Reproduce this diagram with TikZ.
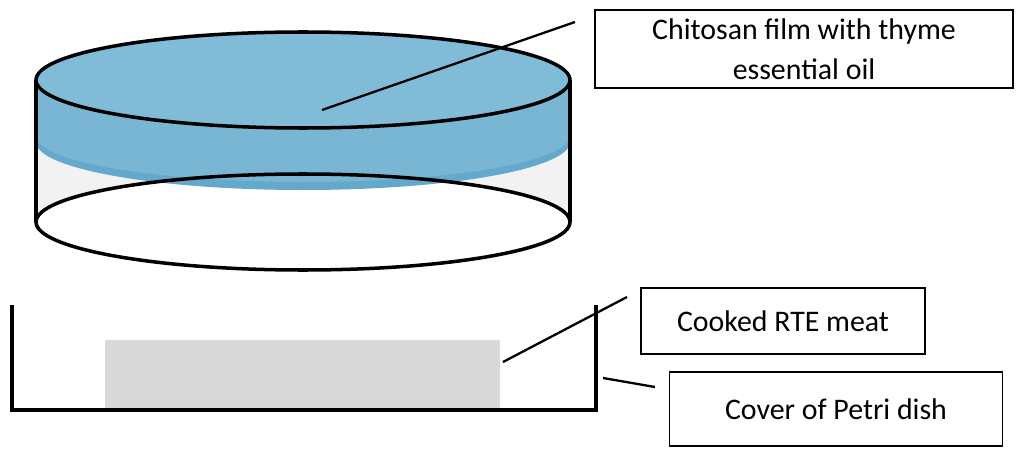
\documentclass[tikz,border=0pt]{standalone}
\usepackage{fontspec}
\setmainfont{Carlito}
\definecolor{filmA}{RGB}{128,188,216}
\definecolor{filmB}{RGB}{120,182,212}
\definecolor{filmC}{RGB}{100,168,204}
\begin{document}
\begin{tikzpicture}[x=0.02cm,y=-0.02cm,
  lbl/.style={draw,line width=1pt,align=center,font=\fontsize{17}{23}\selectfont,inner sep=0},
  ptr/.style={line width=1.3pt}]
\useasboundingbox (0,0) rectangle (1024,456);
% top dish
\fill[gray!10] (36,80) -- (36,222) arc[start angle=180,end angle=0,x radius=267,y radius=48] -- (570,80) -- cycle;
\fill[white] (303,222) ellipse[x radius=267,y radius=48];
\fill[filmC] (36,80) -- (36,142) arc[start angle=180,end angle=0,x radius=267,y radius=48] -- (570,80) -- cycle;
\fill[filmB] (36,80) -- (36,136) arc[start angle=180,end angle=0,x radius=267,y radius=46] -- (570,80) -- cycle;
\fill[filmA] (303,80) ellipse[x radius=267,y radius=48];
\draw[line width=2pt] (303,80) ellipse[x radius=267,y radius=48];
\draw[line width=2pt] (303,222) ellipse[x radius=267,y radius=48];
\draw[line width=2pt] (36,80) -- (36,222) (570,80) -- (570,222);
% bottom dish
\fill[gray!30] (105,340) rectangle (500,410);
\draw[line width=2.5pt] (12,305) -- (12,410) -- (596,410) -- (596,305);
% labels
\node[lbl,minimum width=418*0.02cm,minimum height=78*0.02cm] (b1) at (804,49) {Chitosan film with thyme\\essential oil};
\node[lbl,minimum width=284*0.02cm,minimum height=66*0.02cm] (b2) at (783,321) {Cooked RTE meat};
\node[lbl,minimum width=333*0.02cm,minimum height=74*0.02cm] (b3) at (836,409) {Cover of Petri dish};
\coordinate (f1) at (575,22); \coordinate (t1) at (322,110);
\coordinate (f2) at (627,297); \coordinate (t2) at (503,362);
\coordinate (f3) at (655,387); \coordinate (t3) at (603,378);
\draw[ptr] (f1) -- (t1);
\draw[ptr] (f2) -- (t2);
\draw[ptr] (f3) -- (t3);
\end{tikzpicture}
\end{document}
